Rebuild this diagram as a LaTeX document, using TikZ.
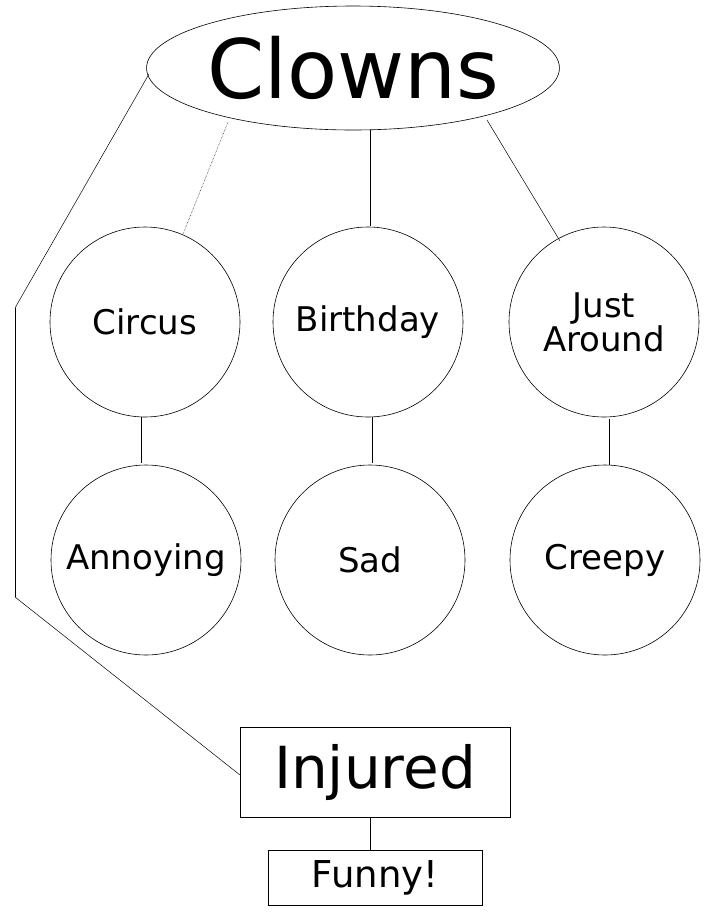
\documentclass[tikz,border=0pt]{standalone}
\usepackage{fontspec}
\setmainfont{DejaVu Sans}
\usetikzlibrary{shapes.geometric}
\begin{document}
\begin{tikzpicture}[x=1pt,y=-1pt,
  ln/.style={draw=black,line width=0.6pt},
  circ/.style={ln,circle,minimum size=190pt,inner sep=0pt,align=center,font=\fontsize{34}{36}\selectfont},
  box/.style={ln,rectangle,inner sep=0pt}]
\useasboundingbox (0,0) rectangle (716,914);
\fill[white] (0,0) rectangle (716,914);
\node[ln,ellipse,minimum width=406pt,minimum height=124pt,inner sep=0pt,font=\fontsize{82}{82}\selectfont] (clowns) at (353,68) {Clowns};
\node[circ] (circus) at (145,322) {Circus};
\node[circ] (birthday) at (368,322) {Birthday};
\node[circ] (just) at (604,322) {Just\\[-2pt]Around};
\node[circ] (annoy) at (146,560) {Annoying};
\node[circ] (sad) at (370,560) {Sad};
\node[circ] (creepy) at (605,560) {Creepy};
\node[box,minimum width=270pt,minimum height=90pt,font=\fontsize{58}{58}\selectfont] (injured) at (375,772) {Injured};
\node[box,minimum width=214pt,minimum height=55pt,font=\fontsize{37}{37}\selectfont] (funny) at (375,878) {Funny!};
\coordinate (c1) at (228,122);
\coordinate (c2) at (183,234);
\coordinate (c3) at (370,130);
\coordinate (c4) at (370,226);
\coordinate (c5) at (487,120);
\coordinate (c6) at (560,241);
\coordinate (l1) at (149,74);
\coordinate (l2) at (15,308);
\coordinate (l3) at (15,597);
\coordinate (l4) at (240,775);
\draw[line width=0.5pt,densely dotted] (c1) -- (c2);
\draw[line width=0.5pt] (c3) -- (c4);
\draw[line width=0.5pt] (c5) -- (c6);
\draw[line width=0.5pt] (141,417) -- (141,463);
\draw[line width=0.5pt] (372,417) -- (372,463);
\draw[line width=0.5pt] (609,419) -- (609,465);
\draw[line width=0.5pt] (l1) -- (l2);
\draw[line width=1pt] (l2) -- (l3);
\draw[line width=0.5pt] (l3) -- (l4);
\draw[line width=0.5pt] (injured.south -| 370,0) -- (funny.north -| 370,0);
\end{tikzpicture}
\end{document}
